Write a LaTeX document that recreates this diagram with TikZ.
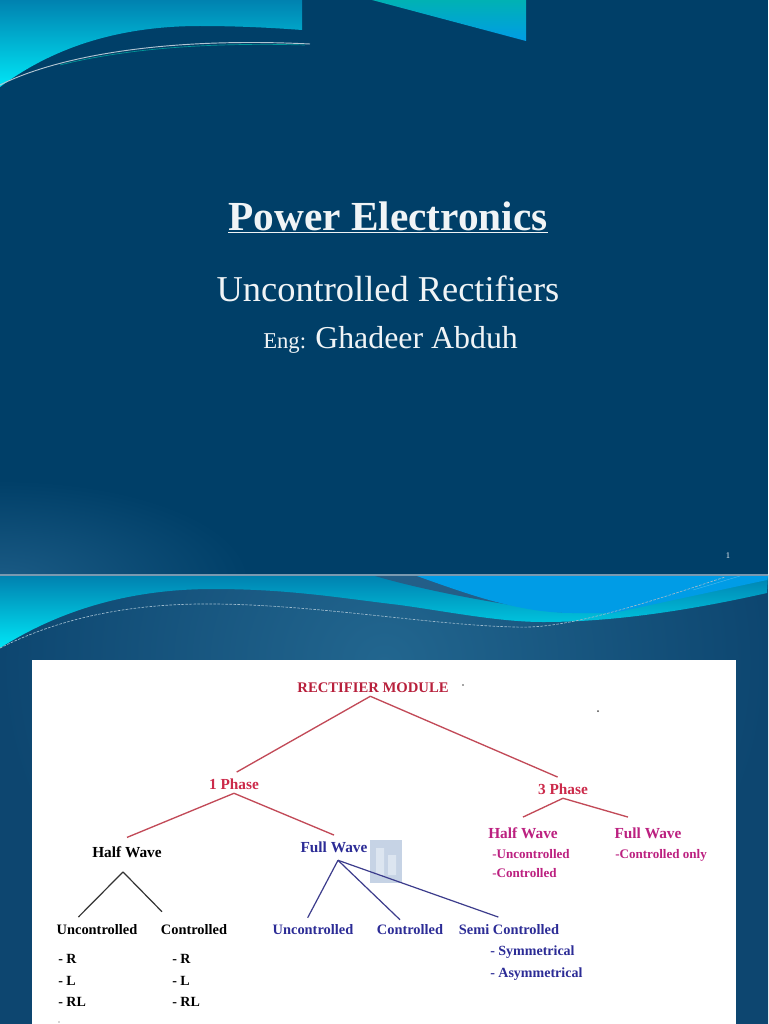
\documentclass[tikz,border=0pt]{standalone}
\usepackage{fontspec}
\setmainfont{Liberation Serif}
\definecolor{slidedark}{HTML}{003F68}
\definecolor{slideglow}{HTML}{1B5B85}
\definecolor{slideedge}{HTML}{0D4670}
\definecolor{slidemid}{HTML}{22668F}
\definecolor{stripdark}{HTML}{235E88}
\definecolor{wavecyan}{HTML}{00E6F6}
\definecolor{wavemid}{HTML}{00C6DE}
\definecolor{wavedeep}{HTML}{0082B0}
\definecolor{waveblue}{HTML}{009CE6}
\definecolor{waveteal}{HTML}{00B2B4}
\definecolor{rootred}{HTML}{B8203C}
\definecolor{linered}{HTML}{C24A58}
\definecolor{phasered}{HTML}{CC2A4A}
\definecolor{wavepink}{HTML}{BC2080}
\definecolor{fullblue}{HTML}{2C2C96}
\definecolor{lineblue}{HTML}{3C3C8C}
\definecolor{logogrey}{HTML}{C6D3E5}
\definecolor{logolight}{HTML}{DCE5F0}
\tikzset{
  titletext/.style={text=white!94!slidedark,inner sep=0pt,anchor=base},
  tree/.style={font=\fontsize{11.5}{13}\selectfont\bfseries,inner sep=1.5pt,text height=9pt,text depth=1.5pt},
  treeleaf/.style={tree,font=\fontsize{10.8}{13}\selectfont\bfseries},
  treelist/.style={tree,anchor=west,font=\fontsize{10.5}{13}\selectfont\bfseries},
  pinklist/.style={treelist,text=wavepink,font=\fontsize{9.8}{13}\selectfont\bfseries},
  redline/.style={draw=linered,line width=1pt},
  blueline/.style={draw=lineblue,line width=0.9pt},
  blackline/.style={draw=black!80,line width=0.9pt},
}
\begin{document}
\begin{tikzpicture}[x=0.75pt,y=-0.75pt]
  \useasboundingbox (0,0) rectangle (768,1024);
  % first slide
  \fill[slidedark] (0,0) rectangle (768,575);
  \begin{scope}
    \clip (0,0) rectangle (768,575);
    \shade[inner color=slideglow,outer color=slidedark] (-250,480) rectangle (250,680);
  \end{scope}
  \shade[top color=wavedeep,bottom color=wavecyan] (0,87) .. controls (60,42) and (130,26) .. (200,26) .. controls (240,26) and (275,28) .. (302,30) -- (302,0) -- (0,0) -- cycle;
  \shade[top color=waveteal,bottom color=waveblue] (372,0) -- (526,41) -- (526,0) -- cycle;
  \draw[white!70!slidedark,line width=0.7pt] (0,85) .. controls (60,55) and (170,37) .. (310,44);
  \draw[teal!80!cyan,line width=0.5pt] (60,65) .. controls (120,50) and (200,42) .. (305,45);
  % second slide
  \begin{scope}
    \clip (0,575) rectangle (768,1024);
    \shade[inner color=slidemid,outer color=slideedge] (0,300) rectangle (768,1024);
  \end{scope}
  \draw[white!45!slideedge,line width=0.8pt] (0,575) -- (768,575);
  \shade[top color=wavedeep,middle color=wavemid,bottom color=wavecyan] (0,648) .. controls (60,610) and (130,589) .. (213,589) .. controls (290,589) and (340,598) .. (400,605) .. controls (450,612) and (500,622) .. (543,622) .. controls (620,622) and (700,608) .. (767,593) -- (768,576) -- (0,576) -- cycle;
  \fill[stripdark] (375,576) .. controls (430,592) and (500,604) .. (557,612) -- (573,613) .. controls (520,605) and (470,595) .. (417,576) -- cycle;
  \fill[waveblue] (417,576) .. controls (470,595) and (520,613) .. (573,613) -- (613,613) -- (767,580) -- (768,576) -- cycle;
  \draw[white!55!slidemid,line width=0.5pt,dash pattern=on 2pt off 1pt] (0,648) .. controls (60,618) and (130,603) .. (215,604) .. controls (320,605) and (430,625) .. (515,627) .. controls (560,629) and (620,612) .. (725,577);
  \draw[white!30!waveblue,line width=0.3pt] (693,590) -- (740,576);
  \fill[white] (32,660) rectangle (736,1024);
  % logo behind the tree
  \fill[logogrey] (370,840) rectangle (402,883);
  \fill[logolight] (376,848) rectangle (384,875) (388,855) rectangle (396,875);
  % stray specks
  \fill[black!70] (463,685) circle (0.8) (598,711) circle (1) (59,1022) circle (0.6);
  % titles
  \node[titletext,font=\fontsize{31}{36}\selectfont\bfseries] (title) at (388,230) {\underline{Power Electronics}};
  \node[titletext,font=\fontsize{27.3}{32}\selectfont] (subtitle) at (388,301) {Uncontrolled Rectifiers};
  \node[titletext,anchor=base west,font=\fontsize{17}{20}\selectfont] (eng) at (263,348) {Eng:};
  \node[titletext,anchor=base west,font=\fontsize{23.9}{28}\selectfont] (name) at (315,348) {Ghadeer Abduh};
  \node[titletext,anchor=center,font=\fontsize{6.5}{7}\selectfont] (pagenum) at (728,556) {1};
  % tree
  \node[tree,text=rootred,font=\fontsize{11}{13}\selectfont\bfseries] (root) at (373,687) {RECTIFIER MODULE};
  \node[tree,text=phasered] (onephase) at (234,784) {1 Phase};
  \node[tree,text=phasered] (threephase) at (563,789) {3 Phase};
  \node[tree] (halfwave) at (127,852) {Half Wave};
  \node[tree,text=fullblue] (fullwave) at (334,847) {Full Wave};
  \node[tree,text=wavepink] (halfpink) at (523,833) {Half Wave};
  \node[tree,text=wavepink] (fullpink) at (648,833) {Full Wave};
  \node[pinklist] (halfun) at (490,853) {-Uncontrolled};
  \node[pinklist] (halfcon) at (490,872) {-Controlled};
  \node[pinklist] (fullcon) at (613,853) {-Controlled only};
  \node[treeleaf] (uncontrolled) at (97,929) {Uncontrolled};
  \node[treeleaf] (controlled) at (194,929) {Controlled};
  \node[treeleaf,text=fullblue] (blueun) at (313,929) {Uncontrolled};
  \node[treeleaf,text=fullblue] (bluecon) at (410,929) {Controlled};
  \node[treeleaf,text=fullblue] (semi) at (509,929) {Semi Controlled};
  \node[treelist,text=fullblue] (symm) at (488,950) {- Symmetrical};
  \node[treelist,text=fullblue] (asymm) at (488,972) {- Asymmetrical};
  \node[treelist] (unr) at (56,958) {- R};
  \node[treelist] (unl) at (56,980) {- L};
  \node[treelist] (unrl) at (56,1001) {- RL};
  \node[treelist] (conr) at (170,958) {- R};
  \node[treelist] (conl) at (170,980) {- L};
  \node[treelist] (conrl) at (170,1001) {- RL};
  \draw[redline] ([xshift=-2pt]root.south) to ([xshift=2pt,yshift=2pt]onephase.north);
  \draw[redline] ([xshift=-2pt]root.south) to ([xshift=-4pt,yshift=2pt]threephase.north);
  \draw[redline] (onephase.south) to ([yshift=4pt]halfwave.north);
  \draw[redline] (onephase.south) to ([yshift=2pt]fullwave.north);
  \draw[redline] (threephase.south) to ([yshift=5pt]halfpink.north);
  \draw[redline] (threephase.south) to ([xshift=-15pt,yshift=5pt]fullpink.north);
  \draw[blackline] ([xshift=-3pt,yshift=-8pt]halfwave.south) to ([xshift=-14pt,yshift=2pt]uncontrolled.north);
  \draw[blackline] ([xshift=-3pt,yshift=-8pt]halfwave.south) to ([xshift=-24pt,yshift=6pt]controlled.north);
  \draw[blueline] ([xshift=3pt,yshift=-3pt]fullwave.south) to ([xshift=-4pt,yshift=1.5pt]blueun.north);
  \draw[blueline] ([xshift=3pt,yshift=-3pt]fullwave.south) to ([xshift=-7.5pt]bluecon.north);
  \draw[blueline] ([xshift=3pt,yshift=-3pt]fullwave.south) to ([xshift=-8pt,yshift=2pt]semi.north);
\end{tikzpicture}
\end{document}
